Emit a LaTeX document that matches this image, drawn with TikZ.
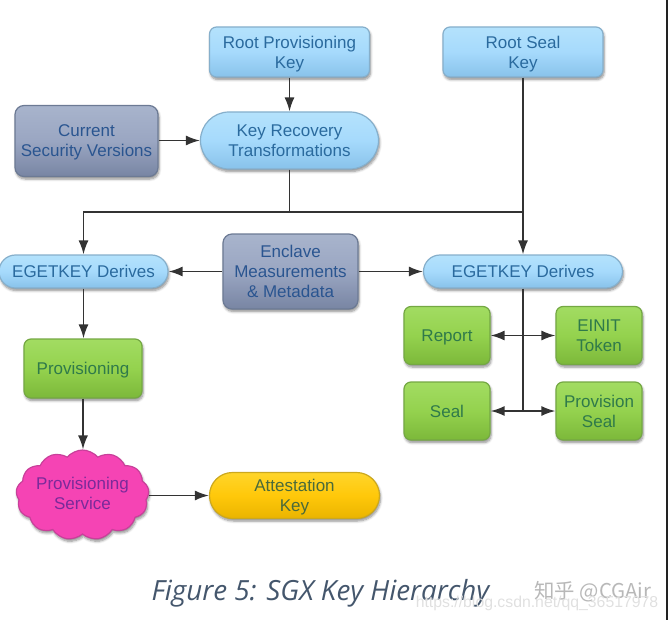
\documentclass[tikz,border=0pt]{standalone}
\usepackage{fontspec}
\setmainfont{Liberation Sans}
\newfontfamily\capfont{Open Sans}
\newfontfamily\cjkfont{Noto Sans CJK SC}
\usetikzlibrary{shapes.symbols,shapes.misc,arrows.meta,shadows.blur}
\definecolor{txtblue}{HTML}{2A6A9E}
\definecolor{txtnavy}{HTML}{2A5590}
\definecolor{txtgreen}{HTML}{2F7A4A}
\definecolor{txtolive}{HTML}{4A6A3A}
\definecolor{linecol}{HTML}{333333}
\definecolor{capcol}{HTML}{44566C}
\definecolor{blueedge}{HTML}{86AFCB}
\definecolor{bluetop}{HTML}{B4E2FC}
\definecolor{bluemid}{HTML}{A6DAFC}
\definecolor{bluebot}{HTML}{88C2EA}
\definecolor{greyedge}{HTML}{6C7A94}
\definecolor{greytop}{HTML}{A8B4CC}
\definecolor{greymid}{HTML}{9AA6C2}
\definecolor{greybot}{HTML}{7885A3}
\definecolor{greenedge}{HTML}{74A843}
\definecolor{greentop}{HTML}{A2DC62}
\definecolor{greenmid}{HTML}{94D24E}
\definecolor{greenbot}{HTML}{7CB83A}
\definecolor{yelledge}{HTML}{CCA81E}
\definecolor{yelltop}{HTML}{FFD52A}
\definecolor{yellmid}{HTML}{FFC80A}
\definecolor{yellbot}{HTML}{EAB400}
\definecolor{pinkedge}{HTML}{C8409A}
\definecolor{pinkfill}{HTML}{F544B4}
\definecolor{purpletxt}{HTML}{7A2A9A}
\definecolor{stripcol}{HTML}{222222}
\tikzset{
  x=1pt,y=-1pt,
  basebox/.style={draw,line width=1.2pt,align=center,inner sep=0pt,text depth=0pt,
    font=\fontsize{17}{20}\selectfont,
    blur shadow={shadow xshift=1pt,shadow yshift=-2.5pt,shadow blur steps=6,shadow blur radius=2.5pt,shadow opacity=45}},
  bluebox/.style={basebox,rectangle,rounded corners=7pt,draw=blueedge,top color=bluetop,bottom color=bluebot,middle color=bluemid,text=txtblue},
  bluepill/.style={basebox,rounded rectangle,draw=blueedge,top color=bluetop,bottom color=bluebot,middle color=bluemid,text=txtblue},
  greybox/.style={basebox,rectangle,rounded corners=9pt,draw=greyedge,top color=greytop,bottom color=greybot,middle color=greymid,text=txtnavy},
  greenbox/.style={basebox,rectangle,rounded corners=7pt,draw=greenedge,top color=greentop,bottom color=greenbot,middle color=greenmid,text=txtgreen},
  yellowpill/.style={basebox,rounded rectangle,draw=yelledge,top color=yelltop,bottom color=yellbot,middle color=yellmid,text=txtolive},
  pinkcloud/.style={basebox,cloud,cloud puffs=13,cloud puff arc=100,cloud ignores aspect,draw=pinkedge,fill=pinkfill,text=purpletxt,text depth=4pt},
  conn/.style={draw=linecol,line width=1.6pt},
  arr/.style={conn,-{Latex[length=14pt,width=10pt]}},
}
\begin{document}
\begin{tikzpicture}
\useasboundingbox (0,0) rectangle (668,620);
\fill[stripcol] (666,0) rectangle (668,620);
\node[bluebox,minimum width=160pt,minimum height=50pt] (rootprov) at (289.5,52) {Root Provisioning\\Key};
\node[bluebox,minimum width=160pt,minimum height=50pt] (rootseal) at (523,52) {Root Seal\\Key};
\node[greybox,minimum width=143pt,minimum height=71pt] (current) at (86.5,141) {Current\\Security Versions};
\node[bluepill,minimum width=178pt,minimum height=57pt] (keyrec) at (289.5,140.5) {Key Recovery\\Transformations};
\node[greybox,minimum width=135pt,minimum height=75pt] (enclave) at (290.5,271.5) {Enclave\\Measurements\\\& Metadata};
\node[bluepill,minimum width=169pt,minimum height=33pt] (egetl) at (83.5,271.5) {EGETKEY Derives};
\node[bluepill,minimum width=199pt,minimum height=33pt] (egetr) at (523,271.5) {EGETKEY Derives};
\node[greenbox,minimum width=118pt,minimum height=59pt] (prov) at (83,368.5) {Provisioning};
\node[greenbox,minimum width=86pt,minimum height=58pt] (report) at (447,335.5) {Report};
\node[greenbox,minimum width=86pt,minimum height=58pt] (einit) at (599,335.5) {EINIT\\Token};
\node[greenbox,minimum width=86pt,minimum height=58pt] (seal) at (447,411) {Seal};
\node[greenbox,minimum width=86pt,minimum height=58pt] (provseal) at (599,411) {Provision\\Seal};
\node[pinkcloud,minimum width=119pt,minimum height=90pt] (cloud) at (82.5,495) {Provisioning\\Service};
\node[yellowpill,minimum width=170pt,minimum height=46pt] (attest) at (294.5,495.5) {Attestation\\Key};
\coordinate (split) at (keyrec.south |- 0,212);
\coordinate (leftturn) at (egetl.north |- split);
\coordinate (rightjoin) at (egetr.north |- split);
\coordinate (rowa) at (egetr.south |- report.east);
\coordinate (rowb) at (egetr.south |- seal.east);
\draw[arr] (rootprov.south) -- (keyrec.north);
\draw[arr] (current.east |- keyrec.west) -- (keyrec.west);
\draw[conn] (keyrec.south) -- (split);
\draw[arr] (rightjoin) -- (leftturn) -- (egetl.north);
\draw[arr] (rootseal.south) -- (egetr.north);
\draw[arr] (enclave.west) -- (egetl.east);
\draw[arr] (enclave.east) -- (egetr.west);
\draw[conn] (egetr.south) -- (rowb);
\draw[arr] (rowa) -- (report.east);
\draw[arr] (rowa) -- (einit.west);
\draw[arr] (rowb) -- (seal.east);
\draw[arr] (rowb) -- (provseal.west);
\draw[arr] (egetl.south) -- (egetl.south |- prov.north);
\draw[arr] (prov.south) -- (prov.south |- cloud.north);
\draw[arr] (cloud.east |- attest.west) -- (attest.west);
\node[anchor=center,font=\capfont\itshape\fontsize{27.8}{32}\selectfont,text=capcol,inner sep=0pt] (caption) at (320.5,593) {Figure 5: SGX Key Hierarchy};
\node[anchor=center,font=\cjkfont\fontsize{20.4}{24}\selectfont,text=black!28,inner sep=0pt] (mark) at (593,592) {知乎 @CGAir};
\node[anchor=center,font=\fontsize{15.8}{18}\selectfont,text=black!12,inner sep=0pt] (url) at (537,603) {https://blog.csdn.net/qq\_36517978};
\end{tikzpicture}
\end{document}
